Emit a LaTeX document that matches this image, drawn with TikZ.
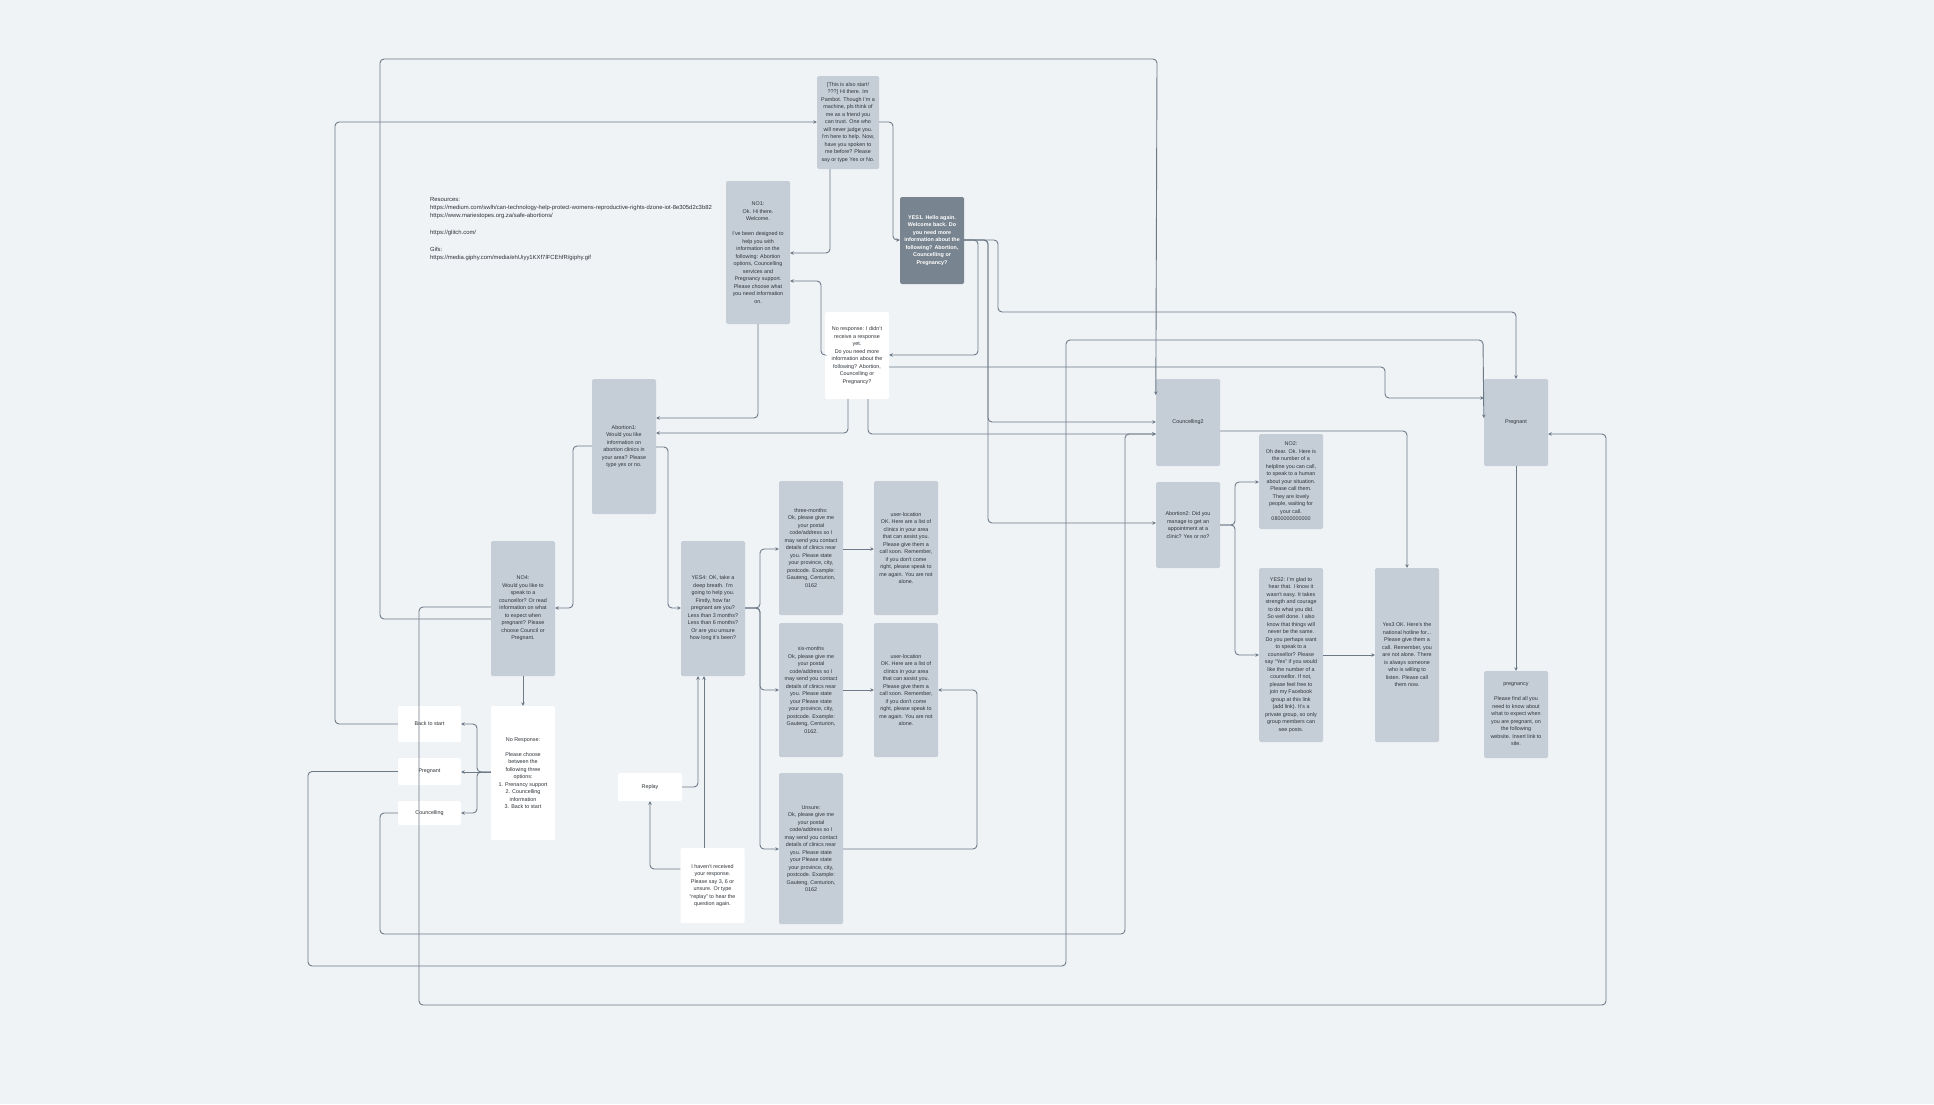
\documentclass[tikz,border=0pt]{standalone}
\usepackage{fontspec}
\setmainfont{Liberation Sans}
\usetikzlibrary{arrows.meta}
\definecolor{bg}{HTML}{F0F3F6}
\definecolor{ng}{HTML}{C5CED7}
\definecolor{nd}{HTML}{78848F}
\definecolor{lc}{HTML}{6C7987}
\definecolor{tx}{HTML}{2E3338}
\newcommand\nfs{\fontsize{5.4}{7.5}\selectfont}
\begin{document}
\begin{tikzpicture}[x=1pt,y=-1pt,
  base/.style={rounded corners=1.5pt, align=center, font=\nfs, text=tx, inner sep=0pt, minimum width=64pt},
  gbox/.style={base, fill=ng},
  wbox/.style={base, fill=white},
  dbox/.style={base, fill=nd, text=white, font=\nfs\bfseries},
  conn/.style={draw=lc, line width=0.9pt, rounded corners=4pt, -{Stealth[length=3.5pt,width=3.5pt]}},
  plain/.style={draw=lc, line width=0.9pt, rounded corners=4pt}]
\useasboundingbox (0,0) rectangle (1934,1104);
\fill[bg] (0,0) rectangle (1934,1104);

% resources text
\node[anchor=north west, align=left, font=\fontsize{5.9}{8.3}\selectfont, text=tx, inner sep=0pt] (res) at (430,197) {Resources:\\
https://medium.com/swlh/can-technology-help-protect-womens-reproductive-rights-dzone-iot-8e305d2c3b82\\
https://www.mariestopes.org.za/safe-abortions/\\[8.3pt]
https://glitch.com/\\[8.3pt]
Gifs:\\
https://media.giphy.com/media/ehUiyy1KXf7lFCEhfR/giphy.gif};

% nodes
\node[gbox, minimum width=62pt, minimum height=93pt] (top) at (848,122.5) {[This is also start!\\???] Hi there. Im\\Pambot. Though I'm a\\machine, pls think of\\me as a friend you\\can trust. One who\\will never judge you.\\I'm here to help. Now,\\have you spoken to\\me before? Please\\say or type Yes or No.};
\node[gbox, minimum height=143pt] (no1) at (758,252.5) {NO1:\\Ok. Hi there.\\Welcome.\\[7.5pt]I've been designed to\\help you with\\information on the\\following: Abortion\\options, Councelling\\services and\\Pregnancy support.\\Please choose what\\you need information\\on.};
\node[dbox, minimum height=87pt] (yes1) at (932,240.5) {YES1. Hello again.\\Welcome back. Do\\you need more\\information about the\\following? Abortion,\\Councelling or\\Pregnancy?};
\node[wbox, minimum height=87pt] (nr) at (857,355.5) {No response: I didn't\\receive a response\\yet.\\Do you need more\\information about the\\following? Abortion,\\Councelling or\\Pregnancy?};
\node[gbox, minimum height=135pt] (ab1) at (624,446.5) {Abortion1:\\Would you like\\information on\\abortion clinics in\\your area? Please\\type yes or no.};
\node[gbox, minimum height=135pt] (no4) at (523,608.5) {NO4:\\Would you like to\\speak to a\\councellor? Or read\\information on what\\to expect when\\pregnant? Please\\choose Council or\\Pregnant.};
\node[gbox, minimum height=135pt] (yes4) at (713,608.5) {YES4: OK, take a\\deep breath. I'm\\going to help you.\\Firstly, how far\\pregnant are you?\\Less than 3 months?\\Less than 6 months?\\Or are you unsure\\how long it's been?};
\node[gbox, minimum height=134pt] (three) at (811,548) {three-months:\\Ok, please give me\\your postal\\code/address so I\\may send you contact\\details of clinics near\\you. Please state\\your province, city,\\postcode. Example:\\Gauteng, Centurion,\\0162};
\node[gbox, minimum height=134pt] (ul1) at (906,548) {user-location\\OK. Here are a list of\\clinics in your area\\that can assist you.\\Please give them a\\call soon. Remember,\\if you don't come\\right, please speak to\\me again. You are not\\alone.};
\node[gbox, minimum height=134pt] (six) at (811,690) {six-months\\Ok, please give me\\your postal\\code/address so I\\may send you contact\\details of clinics near\\you. Please state\\your Please state\\your province, city,\\postcode. Example:\\Gauteng, Centurion,\\0162.};
\node[gbox, minimum height=134pt] (ul2) at (906,690) {user-location\\OK. Here are a list of\\clinics in your area\\that can assist you.\\Please give them a\\call soon. Remember,\\if you don't come\\right, please speak to\\me again. You are not\\alone.};
\node[gbox, minimum height=151pt] (uns) at (811,848.5) {Unsure:\\Ok, please give me\\your postal\\code/address so I\\may send you contact\\details of clinics near\\you. Please state\\your Please state\\your province, city,\\postcode. Example:\\Gauteng, Centurion,\\0162};
\node[wbox, minimum height=28pt] (rep) at (650,787) {Replay};
\node[wbox, minimum height=75pt] (hav) at (712.5,885.5) {I haven't received\\your response.\\Please say 3, 6 or\\unsure. Or type\\``replay'' to hear the\\question again.};
\node[wbox, minimum width=63pt, minimum height=36pt] (bts) at (429.5,724) {Back to start};
\node[wbox, minimum width=63pt, minimum height=27pt] (prl) at (429.5,771.5) {Pregnant};
\node[wbox, minimum width=63pt, minimum height=24pt] (col) at (429.5,813) {Councelling};
\node[wbox, minimum height=134pt] (nr2) at (523,773) {No Response:\\[7.5pt]Please choose\\between the\\following three\\options:\\1. Prenancy support\\2. Councelling\\information\\3. Back to start};
\node[gbox, minimum height=87pt] (co2) at (1188,422.5) {Councelling2};
\node[gbox, minimum height=86pt] (ab2) at (1188,525) {Abortion2: Did you\\manage to get an\\appointment at a\\clinic? Yes or no?};
\node[gbox, minimum height=95pt] (no2) at (1291,481.5) {NO2:\\Oh dear. Ok. Here is\\the number of a\\helpline you can call,\\to speak to a human\\about your situation.\\Please call them.\\They are lovely\\people, waiting for\\your call.\\0800000000000};
\node[gbox, minimum height=174pt] (yes2) at (1291,655) {YES2: I'm glad to\\hear that. I know it\\wasn't easy. It takes\\strength and courage\\to do what you did.\\So well done. I also\\know that things will\\never be the same.\\Do you perhaps want\\to speak to a\\counsellor? Please\\say ``Yes'' if you would\\like the number of a\\counsellor. If not,\\please feel free to\\join my Facebook\\group at this link\\(add link). It's a\\private group, so only\\group members can\\see posts.};
\node[gbox, minimum height=174pt] (yes3) at (1407,655) {Yes3 OK. Here's the\\national hotline for...\\Please give them a\\call. Remember, you\\are not alone. There\\is always someone\\who is willing to\\listen. Please call\\them now.};
\node[gbox, minimum height=87pt] (prg) at (1516,422.5) {Pregnant};
\node[gbox, minimum height=87pt] (pgy) at (1516,714.5) {pregnancy\\[7.5pt]Please find all you\\need to know about\\what to expect when\\you are pregnant, on\\the following\\website. Insert link to\\site.};

% connectors
\draw[conn] (top.east |- 0,122) -- (893,122) -- (893,240) -- (yes1.west |- 0,240);
\draw[conn] (top.south -| 830,0) -- (830,253) -- (no1.east |- 0,253);
\draw[conn] (nr.west |- 0,355) -- (821,355) -- (821,281) -- (no1.east |- 0,281);
\draw[conn] (no1.south -| 758,0) -- (758,418) -- (ab1.east |- 0,418);
\draw[conn] (nr.south -| 848,0) -- (848,433) -- (ab1.east |- 0,433);
\draw[conn] (nr.south -| 868,0) -- (868,434) -- (co2.west |- 0,434);
\draw[conn] (nr.east |- 0,367) -- (1385,367) -- (1385,398) -- (prg.west |- 0,398);
\draw[conn] (yes1.east |- 0,240) -- (978,240) -- (978,355) -- (nr.east |- 0,355);
\draw[conn] (yes1.east |- 0,240) -- (988,240) -- (988,422) -- (co2.west |- 0,422);
\draw[conn] (yes1.east |- 0,240) -- (988,240) -- (988,523) -- (ab2.west |- 0,523);
\draw[conn] (yes1.east |- 0,240) -- (998,240) -- (998,312) -- (1516,312) -- (prg.north);
\draw[conn] (bts.west) -- (335,724) -- (335,122) -- (top.west |- 0,122);
\draw[conn] (no4.west |- 0,619) -- (380,619) -- (380,59) -- (1157,59) -- (co2.west |- 0,395);
\draw[conn] (no4.west |- 0,607) -- (419,607) -- (419,1005) -- (1606,1005) -- (1606,434) -- (prg.east |- 0,434);
\draw[conn] (prl.west) -- (308,771.5) -- (308,966) -- (1066,966) -- (1066,340) -- (1483,340) -- (prg.west |- 0,418);
\draw[conn] (col.west) -- (380,813) -- (380,934) -- (1125,934) -- (1125,434) -- (co2.west |- 0,434);
\draw[conn] (ab1.west |- 0,446) -- (573,446) -- (573,608) -- (no4.east |- 0,608);
\draw[conn] (ab1.east |- 0,447) -- (668,447) -- (668,608) -- (yes4.west |- 0,608);
\draw[conn] (yes4.east |- 0,608) -- (760,608) -- (760,549) -- (three.west |- 0,549);
\draw[conn] (yes4.east |- 0,608) -- (760,608) -- (760,690) -- (six.west |- 0,690);
\draw[conn] (yes4.east |- 0,608) -- (760,608) -- (760,849) -- (uns.west |- 0,849);
\draw[conn] (three.east |- 0,549) -- (ul1.west |- 0,549);
\draw[conn] (six.east |- 0,690) -- (ul2.west |- 0,690);
\draw[conn] (uns.east |- 0,849) -- (977,849) -- (977,690) -- (ul2.east |- 0,690);
\draw[conn] (rep.east) -- (698,787) -- (yes4.south -| 698,0);
\draw[conn] (hav.north -| 704,0) -- (yes4.south -| 704,0);
\draw[conn] (hav.west |- 0,869) -- (650,869) -- (rep.south);
\draw[conn] (no4.south) -- (nr2.north);
\draw[conn] (nr2.west |- 0,772) -- (477,772) -- (477,724) -- (bts.east);
\draw[conn] (nr2.west |- 0,772) -- (prl.east |- 0,772);
\draw[conn] (nr2.west |- 0,772) -- (477,772) -- (477,813) -- (col.east);
\draw[conn] (co2.east |- 0,431) -- (1407,431) -- (yes3.north);
\draw[conn] (ab2.east |- 0,525) -- (1235,525) -- (1235,482) -- (no2.west |- 0,482);
\draw[conn] (ab2.east |- 0,525) -- (1235,525) -- (1235,655) -- (yes2.west |- 0,655);
\draw[conn] (yes2.east |- 0,655) -- (yes3.west |- 0,655);
\draw[conn] (prg.south) -- (pgy.north);
\end{tikzpicture}
\end{document}
